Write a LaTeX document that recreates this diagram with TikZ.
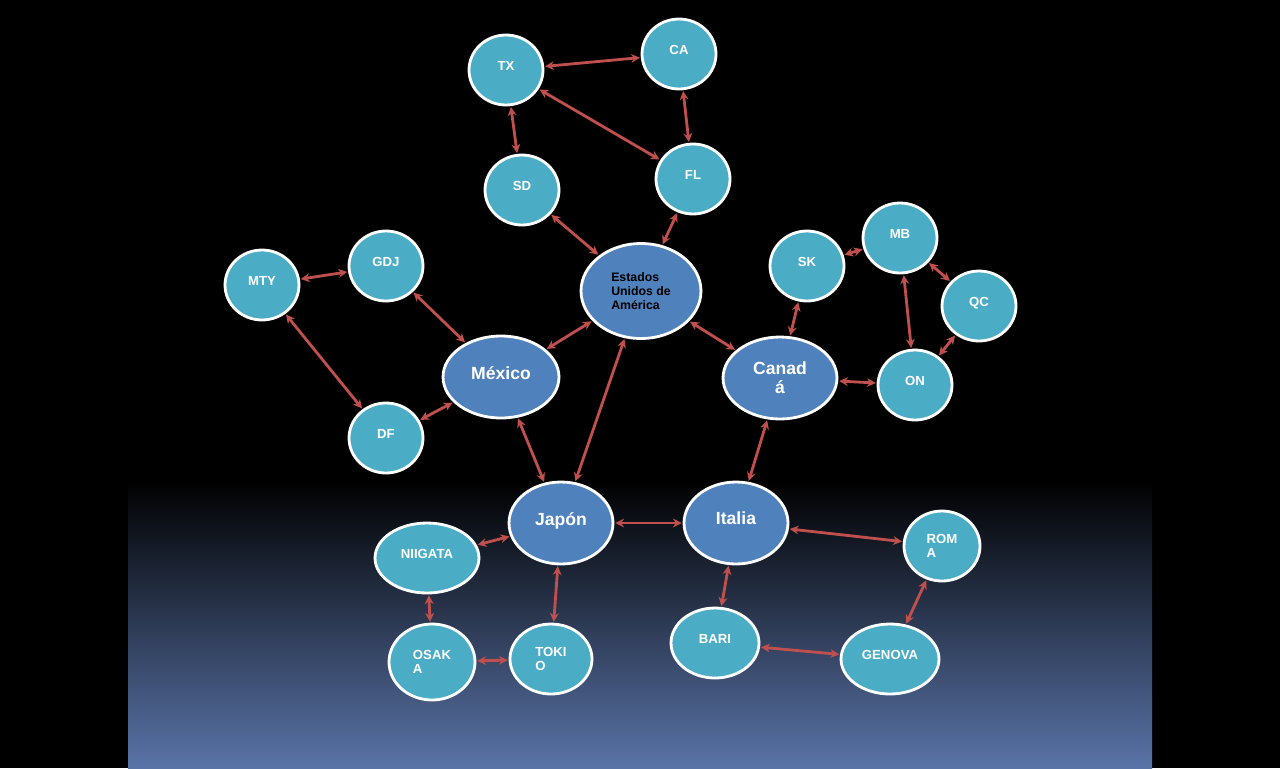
\documentclass[tikz,border=0pt]{standalone}
\usepackage{fontspec}
\setmainfont{Liberation Sans}
\usetikzlibrary{shapes.geometric,arrows.meta}
\definecolor{cityc}{HTML}{4BACC6}
\definecolor{countryc}{HTML}{4F81BD}
\definecolor{linkc}{HTML}{C0504D}
\definecolor{bottomc}{HTML}{5A74A8}
\newcommand{\up}[1]{\raisebox{5pt}{#1}}
\begin{document}
\begin{tikzpicture}[x=0.02cm,y=-0.02cm,
    city/.style={ellipse,draw=white,line width=1.6pt,fill=cityc,text=white,
      font=\bfseries\fontsize{7.5}{8}\selectfont,align=left,inner sep=0pt,
      minimum width=1.48cm,minimum height=1.4cm},
    country/.style={city,fill=countryc,font=\bfseries\fontsize{10}{11}\selectfont,
      minimum width=2.2cm,minimum height=1.64cm},
    link/.style={{Stealth[length=5pt,width=5pt]}-{Stealth[length=5pt,width=5pt]},
      draw=linkc,line width=1.6pt,shorten >=0.5pt,shorten <=0.5pt}]

    % ------------- background
    \fill[black] (0,0) rectangle (1280,768);
    \shade[top color=black,bottom color=bottomc] (128,480) rectangle (1152,768);

    % ------------- countries
    \node[country,minimum width=2.4cm,minimum height=1.9cm,text=black,
      font=\bfseries\fontsize{7}{8}\selectfont] (usa) at (641,291) {Estados\\Unidos de\\América};
    \node[country,minimum width=2.32cm] (mexico) at (501,377) {\up{México}};
    \node[country,minimum width=2.28cm,align=center] (canada) at (780,378) {Canad\\á};
    \node[country,minimum width=2.08cm] (japon) at (561,523) {\up{Japón}};
    \node[country,minimum width=2.08cm] (italia) at (736,523) {\up{Italia}};

    % ------------- cities
    \node[city] (tx) at (506,70) {\up{TX}};
    \node[city] (ca) at (679,54) {\up{CA}};
    \node[city] (sd) at (522,190) {\up{SD}};
    \node[city] (fl) at (693,179) {\up{FL}};
    \node[city] (mty) at (262,285) {\up{MTY}};
    \node[city] (gdj) at (386,266) {\up{GDJ}};
    \node[city] (df) at (386,438) {\up{DF}};
    \node[city] (sk) at (807,266) {\up{SK}};
    \node[city] (mb) at (900,238) {\up{MB}};
    \node[city] (qc) at (979,306) {\up{QC}};
    \node[city] (on) at (915,385) {\up{ON}};
    \node[city,minimum width=2.08cm] (niigata) at (427,558) {\up{NIIGATA}};
    \node[city,minimum width=1.72cm,minimum height=1.52cm] (osaka) at (432,662) {OSAK\\A};
    \node[city,minimum width=1.64cm] (tokio) at (551,659) {TOKI\\O};
    \node[city,minimum width=1.76cm] (bari) at (715,643) {\up{BARI}};
    \node[city,minimum width=1.96cm] (genova) at (890,659) {\up{GENOVA}};
    \node[city,minimum width=1.52cm] (roma) at (942,546) {ROM\\A};

    % ------------- links
    \foreach \a/\b in {tx/ca,tx/sd,tx/fl,ca/fl,fl/usa,sd/usa,usa/mexico,usa/canada,
      usa/japon,mty/gdj,mty/df,gdj/mexico,mexico/df,mexico/japon,sk/mb,sk/canada,
      mb/on,mb/qc,qc/on,canada/on,canada/italia,japon/niigata,japon/italia,
      japon/tokio,niigata/osaka,osaka/tokio,italia/roma,italia/bari,bari/genova,
      genova/roma}
      \draw[link] (\a) -- (\b);

  \end{tikzpicture}
\end{document}
